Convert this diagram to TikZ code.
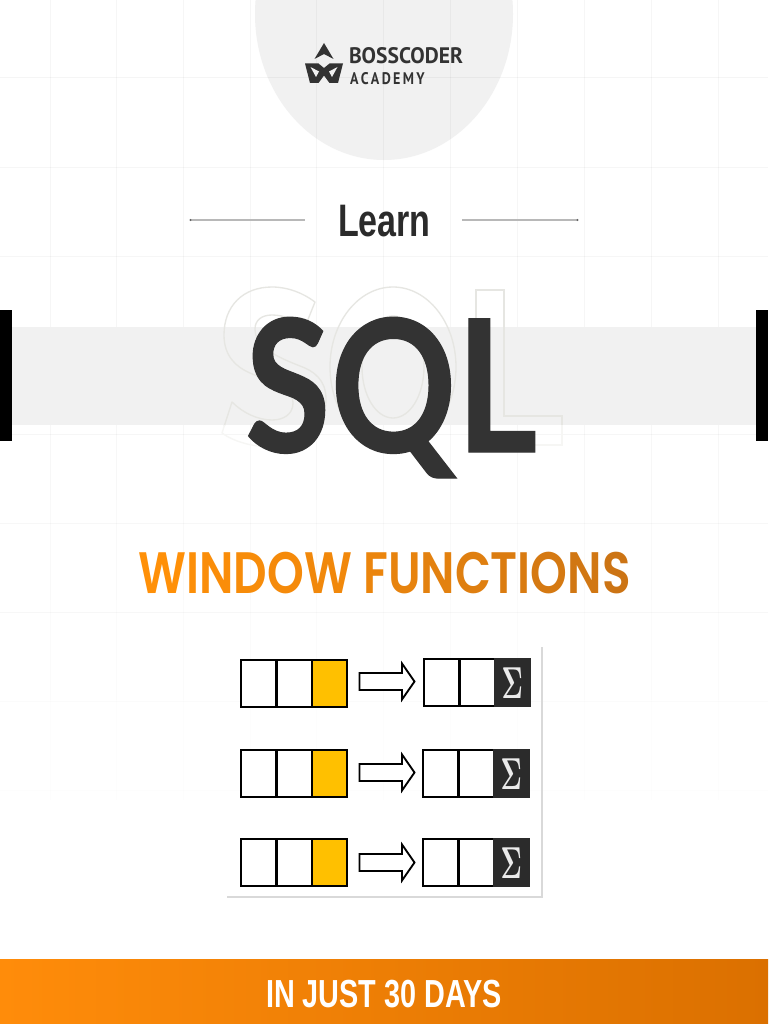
\documentclass[tikz,border=0pt]{standalone}
\usepackage{fontspec}
\usepackage{graphicx}
\usepackage{xcolor}
\setmainfont{Poppins}
\newfontfamily\popsemi{Poppins SemiBold}
\newfontfamily\latofont{Lato}
\newfontfamily\libsans{Liberation Sans}
\newfontfamily\ptsans{PT Sans}
\definecolor{bandgray}{HTML}{F1F1F1}
\definecolor{ink}{HTML}{333333}
\definecolor{ghost}{HTML}{E6E6E2}
\definecolor{ghostfaint}{HTML}{F6F6F4}
\definecolor{oraL}{HTML}{FF9008}
\definecolor{oraR}{HTML}{CC7414}
\definecolor{barL}{HTML}{FF8C0A}
\definecolor{barR}{HTML}{DB7000}
\definecolor{cellyellow}{HTML}{FFC000}
\definecolor{sigmadark}{HTML}{2B2B2B}
\newcommand{\gl}[2]{{\color{oraR!#1!oraL}#2}}
\newcommand{\ghostpaths}[1]{%
  \draw[#1,line width=1pt,line join=miter] (476,290) -- (504,290) -- (504,416) -- (562,416) -- (562,445) -- (476,445) -- cycle;
  \draw[#1,line width=1pt] (393,367) ellipse [x radius=63,y radius=80];
  \draw[#1,line width=1pt] (393,367) ellipse [x radius=31,y radius=51];
  \draw[#1,line width=1pt,line join=round] (315,302) .. controls (303,293) and (288,287) .. (272,287)
    .. controls (243,287) and (224,306) .. (224,335)
    .. controls (224,356) and (236,367) .. (250,373)
    .. controls (268,381) and (293,387) .. (293,403)
    .. controls (293,414) and (284,420) .. (272,420)
    .. controls (258,420) and (243,413) .. (232,402)
    -- (222,433)
    .. controls (234,442) and (254,447) .. (272,447)
    .. controls (305,447) and (326,428) .. (326,399)
    .. controls (326,380) and (314,371) .. (300,366)
    .. controls (280,358) and (255,348) .. (255,329)
    .. controls (255,320) and (262,315) .. (272,315)
    .. controls (284,315) and (296,320) .. (305,327)
    -- cycle;
}
\tikzset{
  txt/.style={inner sep=0pt,outer sep=0pt,anchor=base west},
  cell/.style={draw=black,line width=1.5pt,minimum width=26.6pt,minimum height=35.6pt,inner sep=0pt,anchor=north west,fill=white},
  yellowcell/.style={cell,fill=cellyellow},
  sigmacell/.style={cell,fill=sigmadark,draw=sigmadark,text=white!92!black},
  blockarrow/.style={draw=black,fill=white,line width=1.4pt,line join=miter},
  gridline/.style={draw=black,line width=.75pt}
}
\begin{document}
\begin{tikzpicture}[x=.75pt,y=-.75pt]
\useasboundingbox (0,0) rectangle (768,1024);
\fill[white] (0,0) rectangle (768,1024);
% top cap
\begin{scope}
\clip (0,0) rectangle (768,200);
\fill[bandgray] (384,14) ellipse [x radius=129,y radius=146];
\end{scope}
% grid
\foreach \x in {50,116,183,250,316,383,450,517,584,651,718}{
  \foreach \t/\o in {0/.035,100/.035,200/.035,300/.035,400/.03,500/.025,600/.015,700/.008}{
    \draw[gridline,opacity=\o] (\x,\t) -- (\x,\t+100);
  }
}
\foreach \y/\o in {78/.04,167/.035,256/.035,434/.035,523/.03,612/.03,701/.015,790/.006}{
  \draw[gridline,opacity=\o] (0,\y) -- (768,\y);
}
% logo
\fill[ink] (324,43) -- (333.5,59) -- (324,54) -- (314.5,59) -- cycle;
\fill[ink] (305,63.5) -- (318.5,63.5) -- (324,68) -- (329.5,63.5) -- (343,63.5) -- (338,83) -- (329.5,83) -- (324,75.5) -- (318.5,83) -- (310,83) -- cycle;
\fill[bandgray] (310.5,67) -- (319,71.5) -- (316,77) -- cycle;
\fill[bandgray] (337.5,67) -- (329,71.5) -- (332,77) -- cycle;
\node[txt,text=ink] (brand) at (349,64) {\resizebox{85.5pt}{12pt}{\ptsans\bfseries BOSSCODER}};
\node[txt,text=ink] (academy) at (350,85) {\resizebox{56pt}{9pt}{\ptsans\bfseries A\,C\,A\,D\,E\,M\,Y}};
% learn
\node[txt,text=ink!85!black] (learn) at (338,236) {\resizebox{69.5pt}{23.5pt}{\libsans\bfseries Learn}};
\draw[color=black!28,line width=.8pt] (190,220) -- (305,220);
\draw[color=black!28,line width=.8pt] (462,220) -- (578,220);
\fill[black!60] (190.5,220) circle (1.2);
\fill[black!60] (577.5,220) circle (1.2);
% band
\fill[bandgray] (12,327) rectangle (756,425);
\fill[black] (0,310) rectangle (12,441);
\fill[black] (756,310) rectangle (768,441);
% ghost outline behind the title
\begin{scope}
\clip (200,270) rectangle (600,425);
\ghostpaths{ghost}
\end{scope}
\begin{scope}
\clip (200,425) rectangle (600,470);
\ghostpaths{ghostfaint}
\end{scope}
% SQL
\node[txt,text=ink] (sql) at (245,452) {\resizebox{219pt}{101pt}{\latofont\bfseries\addfontfeature{FakeBold=0.7}SQL}};
% window functions
\node[txt] (wf) at (138.5,593.5) {\resizebox{369pt}{31pt}{\popsemi\gl{0}{W}\gl{5}{I}\gl{10}{N}\gl{15}{D}\gl{20}{O}\gl{27}{W}\ \gl{40}{F}\gl{47}{U}\gl{55}{N}\gl{62}{C}\gl{70}{T}\gl{75}{I}\gl{82}{O}\gl{90}{N}\gl{100}{S}}};
% panel edge
\draw[black!15,line width=.8pt] (227,897) -- (542,897) -- (542,647);
% rows
\foreach \n/\ly/\rx/\ry/\ac in {1/659/423/658/681.5,2/749/422/749/772.5,3/838/422/838/862.5}{
  \node[cell] (la\n) at (240,\ly) {};
  \node[cell] (lb\n) at (275.5,\ly) {};
  \node[yellowcell] (lc\n) at (311,\ly) {};
  \node[cell] (ra\n) at (\rx,\ry) {};
  \node[cell] (rb\n) at ({\rx+35.5},\ry) {};
  \node[sigmacell] (rc\n) at ({\rx+70.5},\ry) {\resizebox{16pt}{23pt}{\boldmath$\Sigma$}};
  \draw[blockarrow] (359.5,\ac-8.5) -- (402,\ac-8.5) -- (402,\ac-18) -- (414.5,\ac) -- (402,\ac+18) -- (402,\ac+8.5) -- (359.5,\ac+8.5) -- cycle;
}
% footer
\shade[left color=barL,right color=barR] (0,959) rectangle (768,1023);
\node[txt,text=white] (days) at (266,1007) {\resizebox{177pt}{20.5pt}{\libsans\bfseries IN JUST 30 DAYS}};
\end{tikzpicture}
\end{document}
